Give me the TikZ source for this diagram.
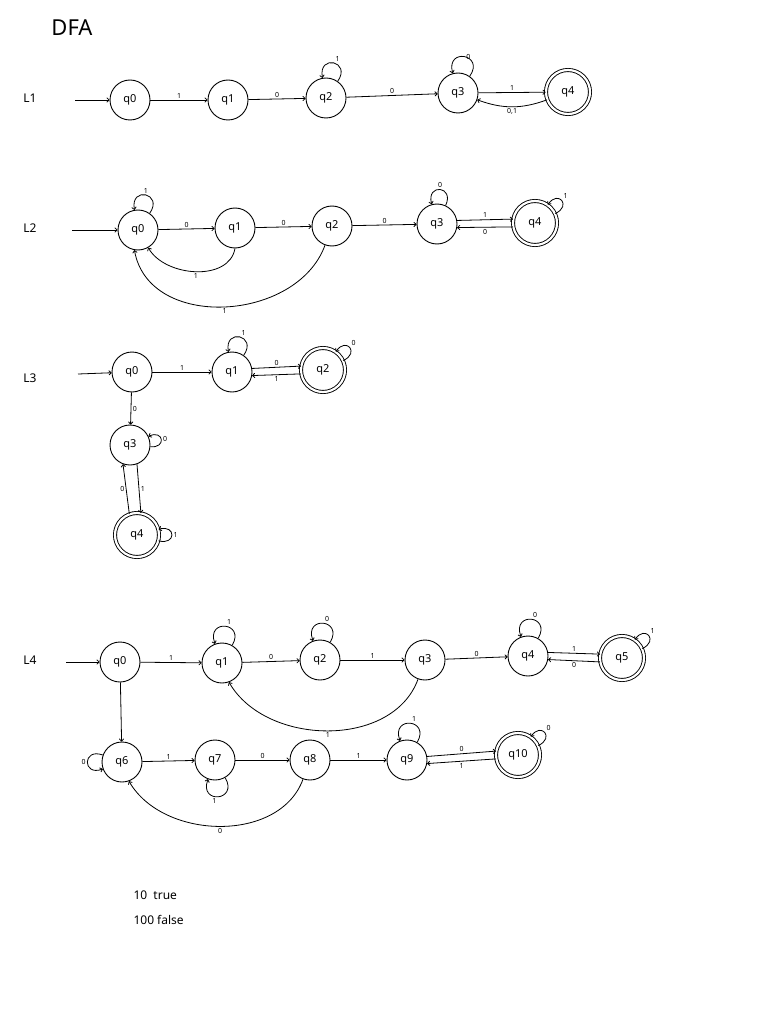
\documentclass[tikz,border=0pt]{standalone}
\usepackage{fontspec}
\setmainfont{Noto Sans}
\usetikzlibrary{arrows.meta}
\begin{document}
\begin{tikzpicture}[x=1pt,y=-1pt,
  st/.style={circle,draw,line width=0.9pt,minimum size=40pt,inner sep=0pt,font=\fontsize{11}{11}\selectfont},
  acc/.style={st,double,double distance=2.2pt,minimum size=44pt},
  ed/.style={-{To[length=3pt,width=5pt]},line width=0.8pt},
  lb/.style={font=\fontsize{7}{7}\selectfont,inner sep=1.5pt},
  lp/.style={ed,looseness=4},
  ttl/.style={font=\fontsize{12}{12}\selectfont}]
\useasboundingbox (0,0) rectangle (768,1024);
\node[font=\fontsize{22}{22}\selectfont\bfseries] (title) at (72,28) {DFA};
% L1
\node[ttl] (L1) at (30,98) {L1};
\coordinate (s1) at (75,100);
\node[st] (a0) at (130,100) {q0};
\node[st] (a1) at (228,100) {q1};
\node[st] (a2) at (326,98) {q2};
\node[st] (a3) at (458,93) {q3};
\node[acc] (a4) at (568,92) {q4};
\draw[ed] (s1) -- (a0);
\draw[ed] (a0) -- node[lb,above]{1} (a1);
\draw[ed] (a1) -- node[lb,above]{0} (a2);
\draw[ed] (a2) -- node[lb,above]{0} (a3);
\draw[ed] (a3) -- node[lb,above]{1} (a4);
\draw[ed] (a4) to[bend left=20] node[lb,below]{0,1} (a3);
\draw[lp] (a2) to[out=55,in=100] node[lb,above right]{1} (a2);
\draw[lp] (a3) to[out=55,in=105] node[lb,right]{0} (a3);
% L2
\node[ttl] (L2) at (30,228) {L2};
\coordinate (s2) at (72,230);
\node[st] (b0) at (138,230) {q0};
\node[st] (b1) at (235,228) {q1};
\node[st] (b2) at (332,226) {q2};
\node[st] (b3) at (437,224) {q3};
\node[acc] (b4) at (535,223) {q4};
\draw[ed] (s2) -- (b0);
\draw[ed] (b0) -- node[lb,above]{0} (b1);
\draw[ed] (b1) -- node[lb,above]{0} (b2);
\draw[ed] (b2) -- node[lb,above]{0} (b3);
\draw[ed] (b3.10) -- node[lb,above]{1} (b4.170);
\draw[ed] (b4.190) -- node[lb,below]{0} (b3.350);
\draw[ed] (b1.270) to[out=260,in=300] node[lb,below]{1} (b0.300);
\draw[ed] (b2.250) to[out=250,in=280,looseness=1.1] node[lb,below]{1} (b0.260);
\draw[lp] (b0) to[out=55,in=100] node[lb,above]{1} (b0);
\draw[lp] (b3) to[out=65,in=105] node[lb,above]{0} (b3);
\draw[lp] (b4) to[out=25,in=55] node[lb,above right]{1} (b4);
% L3
\node[ttl] (L3) at (30,378) {L3};
\coordinate (s3) at (78,374);
\node[st] (c0) at (132,372) {q0};
\node[st] (c1) at (232,372) {q1};
\node[acc] (c2) at (323,370) {q2};
\node[st] (c3) at (130,445) {q3};
\node[acc] (c4) at (137,535) {q4};
\draw[ed] (s3) -- (c0);
\draw[ed] (c0) -- node[lb,above]{1} (c1);
\draw[ed] (c1.10) -- node[lb,above]{0} (c2.170);
\draw[ed] (c2.190) -- node[lb,below]{1} (c1.350);
\draw[ed] (c0) -- node[lb,right]{0} (c3);
\draw[ed] (c3.290) -- node[lb,right]{1} (c4.80);
\draw[ed] (c4.110) -- node[lb,left]{0} (c3.250);
\draw[lp] (c1) to[out=55,in=100] node[lb,above right]{1} (c1);
\draw[lp] (c2) to[out=25,in=55] node[lb,above right]{0} (c2);
\draw[lp] (c3) to[out=-5,in=25] node[lb,right]{0} (c3);
\draw[lp] (c4) to[out=-15,in=15] node[lb,right]{1} (c4);
% L4
\node[ttl] (L4) at (30,660) {L4};
\coordinate (s4) at (66,662);
\node[st] (d0) at (120,662) {q0};
\node[st] (d1) at (222,663) {q1};
\node[st] (d2) at (320,660) {q2};
\node[st] (d3) at (425,660) {q3};
\node[st] (d4) at (528,656) {q4};
\node[acc] (d5) at (622,658) {q5};
\node[st] (d6) at (122,762) {q6};
\node[st] (d7) at (215,760) {q7};
\node[st] (d8) at (310,760) {q8};
\node[st] (d9) at (407,760) {q9};
\node[acc] (d10) at (518,755) {q10};
\draw[ed] (s4) -- (d0);
\draw[ed] (d0) -- node[lb,above]{1} (d1);
\draw[ed] (d1) -- node[lb,above]{0} (d2);
\draw[ed] (d2) -- node[lb,above]{1} (d3);
\draw[ed] (d3) -- node[lb,above]{0} (d4);
\draw[ed] (d4.10) -- node[lb,above]{1} (d5.170);
\draw[ed] (d5.190) -- node[lb,below]{0} (d4.350);
\draw[ed] (d3.250) to[out=250,in=300] node[lb,below]{1} (d1.290);
\draw[ed] (d0) -- (d6);
\draw[ed] (d6) -- node[lb,above]{1} (d7);
\draw[ed] (d7) -- node[lb,above]{0} (d8);
\draw[ed] (d8) -- node[lb,above]{1} (d9);
\draw[ed] (d9.10) -- node[lb,above]{0} (d10.170);
\draw[ed] (d10.190) -- node[lb,below]{1} (d9.350);
\draw[ed] (d8.250) to[out=250,in=300] node[lb,below]{0} (d6.290);
\draw[lp] (d1) to[out=60,in=110] node[lb,above right]{1} (d1);
\draw[lp] (d2) to[out=60,in=110] node[lb,above right]{0} (d2);
\draw[lp] (d4) to[out=60,in=110] node[lb,above right]{0} (d4);
\draw[lp] (d5) to[out=25,in=55] node[lb,above right]{1} (d5);
\draw[lp] (d6) to[out=160,in=200] node[lb,left]{0} (d6);
\draw[lp] (d7) to[out=-60,in=-110] node[lb,below left]{1} (d7);
\draw[lp] (d9) to[out=60,in=110] node[lb,above right]{1} (d9);
\draw[lp] (d10) to[out=25,in=55] node[lb,above right]{0} (d10);
\node[ttl,anchor=west] (t1) at (130,895) {10\ \ true};
\node[ttl,anchor=west] (t2) at (130,920) {100 false};
\end{tikzpicture}
\end{document}
